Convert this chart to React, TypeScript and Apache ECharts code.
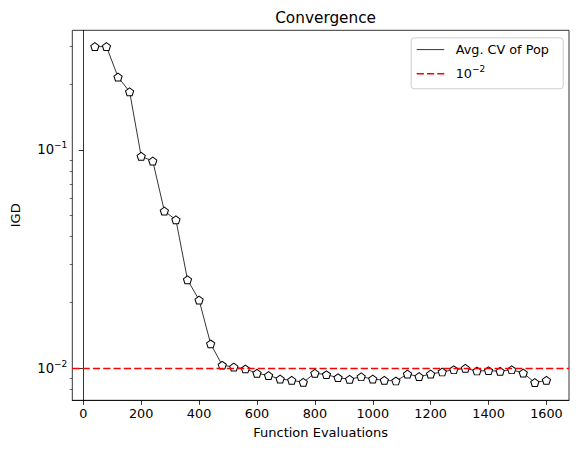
import React, { useEffect, useRef } from 'react'
import * as echarts from 'echarts'

// function evaluations at which the population was measured
const evals = [
  40, 80, 120, 160, 200, 240, 280, 320, 360, 400,
  440, 480, 520, 560, 600, 640, 680, 720, 760, 800,
  840, 880, 920, 960, 1000, 1040, 1080, 1120, 1160, 1200,
  1240, 1280, 1320, 1360, 1400, 1440, 1480, 1520, 1560, 1600,
]
// Avg. CV of Pop (IGD)
const igd = [
  0.298, 0.298, 0.216, 0.185, 0.0935, 0.089, 0.0525, 0.0478, 0.0254, 0.0205,
  0.0129, 0.0103, 0.0101, 0.0099, 0.00946, 0.00924, 0.0089, 0.00878, 0.0086, 0.00946,
  0.00932, 0.00903, 0.00888, 0.00912, 0.0089, 0.00878, 0.00872, 0.00938, 0.00913, 0.00938,
  0.00959, 0.00982, 0.00996, 0.00969, 0.00972, 0.00966, 0.00982, 0.00948, 0.00857, 0.00878,
]
const refLevel = 0.01

const xTicks = [0, 200, 400, 600, 800, 1000, 1200, 1400, 1600]
const yMajorTicks = [0.01, 0.1]
const yMinorTicks = [0.008, 0.009, 0.02, 0.03, 0.04, 0.05, 0.06, 0.07, 0.08, 0.09, 0.2, 0.3]

const FONT = 'DejaVu Sans'
const pentagon = 'path://M0,-1 L0.951,-0.309 L0.588,0.809 L-0.588,0.809 L-0.951,-0.309 Z'

const supLabel = (v: number) => {
  const e = Math.round(Math.log10(v))
  return '10{s|' + (e < 0 ? '\u2212' + -e : String(e)) + '}'
}
const supRich = { s: { fontSize: 9, lineHeight: 9, verticalAlign: 'top', fontFamily: FONT, color: '#000' } }

export default function App() {
  const chartRef = useRef<HTMLDivElement>(null)

  useEffect(() => {
    document.body.style.margin = '0'
    const chart = echarts.init(chartRef.current, null, { renderer: 'svg' })
    const yRange = { min: 0.00711, max: 0.354 }
    chart.setOption({
      animation: false,
      backgroundColor: '#fff',
      title: {
        text: 'Convergence',
        left: 320.6,
        top: 5,
        textAlign: 'center',
        textStyle: { fontFamily: FONT, fontSize: 15.3, fontWeight: 'normal', color: '#000' },
      },
      grid: {
        left: 72.3, right: 9, top: 30.3, bottom: 52.7,
        show: true, borderColor: '#000', borderWidth: 0.8, backgroundColor: 'transparent',
      },
      xAxis: {
        type: 'value',
        min: -38,
        max: 1678,
        name: 'Function Evaluations',
        nameLocation: 'middle',
        nameGap: 26,
        nameTextStyle: { fontFamily: FONT, fontSize: 13, color: '#000' },
        axisLine: { show: true, lineStyle: { color: '#000', width: 0.8 } },
        axisTick: { show: true, customValues: xTicks, length: 4.5, lineStyle: { color: '#000', width: 0.8 } },
        axisLabel: {
          customValues: xTicks,
          formatter: (v: number) => String(v),
          fontFamily: FONT,
          fontSize: 12.8,
          color: '#000',
          margin: 7,
        },
        splitLine: { show: false },
      },
      yAxis: [
        {
          type: 'log',
          logBase: 10,
          ...yRange,
          name: 'IGD',
          nameLocation: 'middle',
          nameGap: 50,
          nameTextStyle: { fontFamily: FONT, fontSize: 13, color: '#000' },
          axisLine: { show: true, lineStyle: { color: '#000', width: 0.8 } },
          axisTick: { show: true, customValues: yMajorTicks, length: 4.5, lineStyle: { color: '#000', width: 0.8 } },
          axisLabel: {
            customValues: yMajorTicks,
            formatter: supLabel,
            rich: supRich,
            fontFamily: FONT,
            fontSize: 13.2,
            lineHeight: 18,
            color: '#000',
            margin: 5,
          },
          splitLine: { show: false },
        },
        {
          // minor ticks only
          type: 'log',
          logBase: 10,
          ...yRange,
          position: 'left',
          axisLine: { show: false },
          axisTick: { show: true, customValues: yMinorTicks, length: 2.6, lineStyle: { color: '#000', width: 0.6 } },
          axisLabel: { show: false },
          splitLine: { show: false },
        },
      ],
      series: [
        {
          name: 'Avg. CV of Pop',
          type: 'line',
          data: evals.map((x, i) => [x, igd[i]]),
          symbol: pentagon,
          symbolSize: [8.2, 7.8],
          showAllSymbol: true,
          lineStyle: { color: '#000', width: 0.8 },
          itemStyle: { color: '#fff', borderColor: '#000', borderWidth: 1 },
          z: 2,
        },
        {
          name: '10^-2',
          type: 'line',
          data: [],
          z: 3,
          markLine: {
            silent: true,
            symbol: ['none', 'none'],
            label: { show: false },
            lineStyle: { color: '#ff0000', type: [7.2, 3.1], width: 1.4 },
            data: [{ yAxis: refLevel }],
          },
        },
      ],
      graphic: [
        {
          type: 'group',
          left: 410.7,
          top: 37.3,
          z: 100,
          children: [
            {
              type: 'rect',
              shape: { x: 0, y: 0, width: 152, height: 51, r: 3 },
              style: { fill: 'rgba(255,255,255,0.8)', stroke: '#cccccc', lineWidth: 1 },
            },
            {
              type: 'line',
              shape: { x1: 5.5, y1: 11.8, x2: 33, y2: 11.8 },
              style: { stroke: '#000', lineWidth: 0.8 },
            },
            {
              type: 'text',
              x: 44.5,
              y: 11.8,
              style: { text: 'Avg. CV of Pop', font: `12.8px "${FONT}"`, fill: '#000', verticalAlign: 'middle' },
            },
            {
              type: 'line',
              shape: { x1: 5.5, y1: 36, x2: 33, y2: 36 },
              style: { stroke: '#ff0000', lineWidth: 1.4, lineDash: [7.2, 3.1] },
            },
            {
              type: 'text',
              x: 44.5,
              y: 36,
              style: {
                text: supLabel(refLevel),
                rich: supRich,
                font: `12.8px "${FONT}"`,
                fontSize: 12.8,
                fontFamily: FONT,
                lineHeight: 18,
                fill: '#000',
                verticalAlign: 'middle',
              },
            },
          ],
        },
      ],
    })
    return () => chart.dispose()
  }, [])

  return <div ref={chartRef} style={{ width: 578, height: 453 }} />
}
